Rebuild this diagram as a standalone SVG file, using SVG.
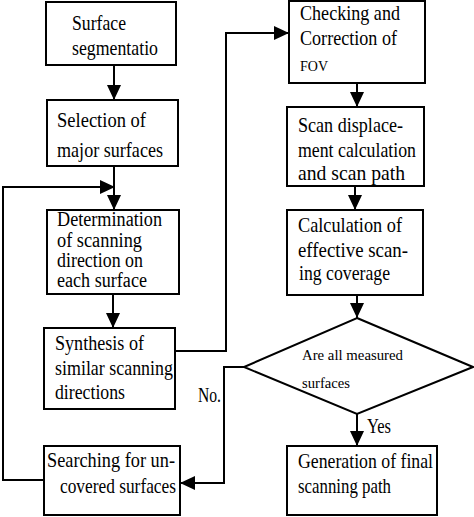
<svg xmlns="http://www.w3.org/2000/svg" width="474" height="517" viewBox="0 0 474 517">
<style>
.box{fill:#fff;stroke:#000;stroke-width:2}
.t{font-family:"Liberation Serif","Times New Roman",serif;font-size:22px;fill:#000}
.d{font-family:"Liberation Serif","Times New Roman",serif;font-size:20px;fill:#000}
.s{font-family:"Liberation Serif","Times New Roman",serif;font-size:15px;fill:#000}
.c{fill:none;stroke:#000;stroke-width:2}
</style>
<defs>
<marker id="ah" markerUnits="userSpaceOnUse" markerWidth="15" markerHeight="14" refX="15" refY="7" orient="auto">
<path d="M0,0 L15,7 L0,14 Z" fill="#000"/>
</marker>
</defs>
<rect width="474" height="517" fill="#fff"/>
<g id="connectors">
<path class="c" d="M114 65 V100" marker-end="url(#ah)"/>
<path class="c" d="M114 166 V210" marker-end="url(#ah)"/>
<path class="c" d="M44 480 H3 V187 H115" marker-end="url(#ah)"/>
<path class="c" d="M113 294 V328" marker-end="url(#ah)"/>
<path class="c" d="M175 351 H226 V33 H289" marker-end="url(#ah)"/>
<path class="c" d="M357 83 V107" marker-end="url(#ah)"/>
<path class="c" d="M355 186 V210" marker-end="url(#ah)"/>
<path class="c" d="M357 295 V318" marker-end="url(#ah)"/>
<path class="c" d="M244 367 H224 V483 H180" marker-end="url(#ah)"/>
<path class="c" d="M357 414 V446" marker-end="url(#ah)"/>
<text class="d" x="198" y="402" textLength="23" lengthAdjust="spacingAndGlyphs">No.</text>
<text class="t" x="367" y="433" font-size="18" textLength="24" lengthAdjust="spacingAndGlyphs">Yes</text>
</g>
<g id="n1">
<rect class="box" x="46" y="2" width="130" height="63"/>
<text class="t" x="72" y="30" textLength="54" lengthAdjust="spacingAndGlyphs">Surface</text>
<text class="t" x="72" y="55" textLength="86" lengthAdjust="spacingAndGlyphs">segmentatio</text>
</g>
<g id="n2">
<rect class="box" x="47" y="100" width="131" height="66"/>
<text class="t" x="57" y="127" textLength="89" lengthAdjust="spacingAndGlyphs">Selection of</text>
<text class="t" x="57" y="157" textLength="106" lengthAdjust="spacingAndGlyphs">major surfaces</text>
</g>
<g id="n3">
<rect class="box" x="47" y="210" width="132" height="84"/>
<text class="d" x="57" y="226" textLength="105" lengthAdjust="spacingAndGlyphs">Determination</text>
<text class="d" x="57" y="247" textLength="85" lengthAdjust="spacingAndGlyphs">of scanning</text>
<text class="d" x="57" y="267" textLength="86" lengthAdjust="spacingAndGlyphs">direction on</text>
<text class="d" x="57" y="287" textLength="90" lengthAdjust="spacingAndGlyphs">each surface</text>
</g>
<g id="n4">
<rect class="box" x="44" y="328" width="131" height="81"/>
<text class="t" x="55" y="350" textLength="89" lengthAdjust="spacingAndGlyphs">Synthesis of</text>
<text class="t" x="55" y="375" textLength="118" lengthAdjust="spacingAndGlyphs">similar scanning</text>
<text class="t" x="55" y="399" textLength="70" lengthAdjust="spacingAndGlyphs">directions</text>
</g>
<g id="n5">
<rect class="box" x="289" y="1" width="136" height="82"/>
<text class="t" x="300" y="20" textLength="100" lengthAdjust="spacingAndGlyphs">Checking and</text>
<text class="t" x="300" y="45" textLength="97" lengthAdjust="spacingAndGlyphs">Correction of</text>
<text class="s" x="300" y="71" textLength="28" lengthAdjust="spacingAndGlyphs">FOV</text>
</g>
<g id="n6">
<rect class="box" x="287" y="107" width="137" height="79"/>
<text class="t" x="298" y="132" textLength="105" lengthAdjust="spacingAndGlyphs">Scan displace-</text>
<text class="t" x="298" y="157" textLength="118" lengthAdjust="spacingAndGlyphs">ment calculation</text>
<text class="t" x="298" y="180" textLength="107" lengthAdjust="spacingAndGlyphs">and scan path</text>
</g>
<g id="n7">
<rect class="box" x="287" y="210" width="136" height="85"/>
<text class="t" x="298" y="232" textLength="104" lengthAdjust="spacingAndGlyphs">Calculation of</text>
<text class="t" x="298" y="257" textLength="110" lengthAdjust="spacingAndGlyphs">effective scan-</text>
<text class="t" x="299" y="280" textLength="91" lengthAdjust="spacingAndGlyphs">ing coverage</text>
</g>
<g id="n8">
<polygon class="box" points="357,318 473,367 357,414 244,367"/>
<text class="s" x="302" y="360" textLength="101" lengthAdjust="spacingAndGlyphs">Are all measured</text>
<text class="s" x="302" y="388" textLength="48" lengthAdjust="spacingAndGlyphs">surfaces</text>
</g>
<g id="n9">
<rect class="box" x="44" y="446" width="136" height="69"/>
<text class="t" x="47" y="467" textLength="128" lengthAdjust="spacingAndGlyphs">Searching for un-</text>
<text class="t" x="60" y="493" textLength="116" lengthAdjust="spacingAndGlyphs">covered surfaces</text>
</g>
<g id="n10">
<rect class="box" x="287" y="446" width="150" height="69"/>
<text class="t" x="298" y="468" textLength="135" lengthAdjust="spacingAndGlyphs">Generation of final</text>
<text class="t" x="298" y="493" textLength="93" lengthAdjust="spacingAndGlyphs">scanning path</text>
</g>
</svg>
